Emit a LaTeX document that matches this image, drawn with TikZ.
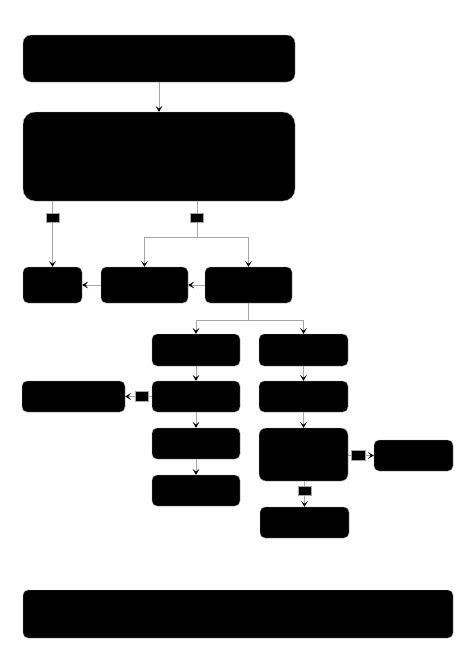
\documentclass[tikz,border=0pt]{standalone}
\usetikzlibrary{arrows.meta}
\begin{document}
\begin{tikzpicture}[x=1pt,y=-1pt,
  box/.style={draw=gray!70,line width=0.4pt,fill=black,rounded corners=5pt,inner sep=0pt},
  conn/.style={draw=gray!70,line width=0.6pt},
  arr/.style={conn,-{Stealth[length=6pt,width=7pt,inset=3pt,fill=black,color=black]}},
  lab/.style={fill=black,draw=gray!70,line width=0.3pt,inner sep=0pt,minimum width=13pt,minimum height=9pt}]
\useasboundingbox (0,0) rectangle (474,670);
% boxes
\node[box,rounded corners=8pt,minimum width=272pt,minimum height=47pt] (b1) at (159,58.5) {};
\node[box,rounded corners=12pt,minimum width=272pt,minimum height=89pt] (b2) at (159,156.5) {};
\node[box,minimum width=59pt,minimum height=36pt] (b3) at (52.5,285) {};
\node[box,minimum width=87pt,minimum height=36pt] (b4) at (144.5,285) {};
\node[box,minimum width=87pt,minimum height=36pt] (b5) at (248.5,285) {};
\node[box,minimum width=88pt,minimum height=32pt] (b6) at (196,350) {};
\node[box,minimum width=89pt,minimum height=32pt] (b7) at (303.5,350) {};
\node[box,minimum width=88pt,minimum height=31pt] (b8) at (196,396.5) {};
\node[box,minimum width=89pt,minimum height=31pt] (b9) at (303.5,396.5) {};
\node[box,minimum width=103pt,minimum height=31pt] (b10) at (73.5,396.5) {};
\node[box,minimum width=88pt,minimum height=31pt] (b11) at (196,443.5) {};
\node[box,minimum width=88pt,minimum height=31pt] (b12) at (196,490.5) {};
\node[box,rounded corners=7pt,minimum width=89pt,minimum height=53pt] (b13) at (303.5,454.5) {};
\node[box,minimum width=79pt,minimum height=31pt] (b14) at (413.5,455.5) {};
\node[box,minimum width=89pt,minimum height=31pt] (b15) at (304.5,522.5) {};
\node[box,minimum width=430pt,minimum height=48pt] (b16) at (238,614) {};
% junctions
\coordinate (j1) at (197,237);
\coordinate (j2) at (248.5,320);
% connectors
\draw[arr] (b1) -- (b2);
\draw[arr] (b2.south -| b3.north) -- node[lab,pos=0.25]{} (b3.north);
\draw[conn] (b2.south -| j1) -- node[lab,pos=0.46]{} (j1);
\draw[arr] (j1) -| (b4.north);
\draw[arr] (j1) -| (b5.north);
\draw[arr] (b5.west) -- (b4.east);
\draw[arr] (b4.west) -- (b3.east);
\draw[conn] (b5.south) -- (j2);
\draw[arr] (j2) -| (b6.north);
\draw[arr] (j2) -| (b7.north);
\draw[arr] (b6) -- (b8);
\draw[arr] (b7) -- (b9);
\draw[arr] (b8) -- (b11);
\draw[arr] (b11) -- (b12);
\draw[arr] (b9) -- (b13);
\draw[arr] (b8.west) -- node[lab,pos=0.4,minimum width=13pt,minimum height=10pt]{} (b10.east);
\draw[arr] (b13.east |- b14.west) -- node[lab,pos=0.4,minimum width=14pt,minimum height=10pt]{} (b14.west);
\draw[arr] (b13.south -| b15.north) -- node[lab,pos=0.37]{} (b15.north);
\end{tikzpicture}
\end{document}
